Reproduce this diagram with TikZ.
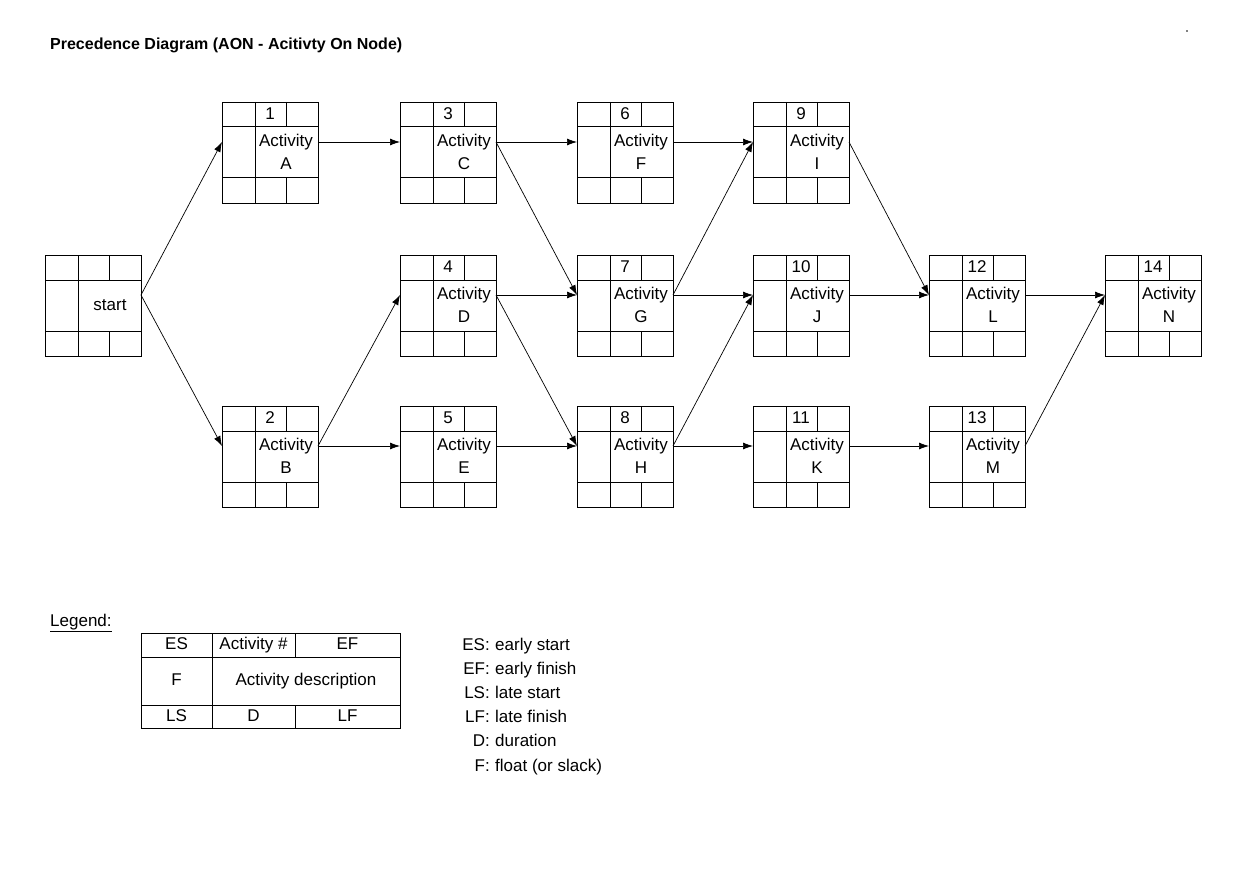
\documentclass[tikz,border=0pt]{standalone}
\usepackage{fontspec}
\setmainfont{Liberation Sans}
\usetikzlibrary{arrows.meta}
\tikzset{
  grid/.style={line width=1pt},
  conn/.style={line width=0.7pt,-{Latex[length=10pt,width=7pt]}},
  txt/.style={font=\fontsize{17}{19}\selectfont,inner sep=0pt,text height=12pt,text depth=3.5pt},
}
% #1 name, #2 x, #3 y, #4 number, #5 letter
\newcommand\actbox[5]{%
  \node[draw,grid,minimum width=96pt,minimum height=101pt,anchor=north west,inner sep=0pt] (#1) at (#2,#3) {};
  \draw[grid] (#2,#3+25) -- ++(96,0) (#2,#3+76) -- ++(96,0)
    (#2+33,#3) -- ++(0,101) (#2+64,#3) -- ++(0,25) (#2+64,#3+76) -- ++(0,25);
  \node[txt] (#1-num) at (#2+48,#3+13) {#4};
  \node[txt] (#1-act) at (#2+64,#3+40) {Activity};
  \node[txt] (#1-let) at (#2+64,#3+63) {#5};
  \coordinate (#1-in) at (#2,#3+40);
  \coordinate (#1-out) at (#2+96,#3+40);
}
\begin{document}
\begin{tikzpicture}[x=1pt,y=-1pt]
\useasboundingbox (0,0) rectangle (1260,896);
\node[anchor=west,font=\bfseries\fontsize{16}{18}\selectfont,inner sep=0pt] (title) at (50,45) {Precedence Diagram (AON - Acitivty On Node)};
\fill (1187,31) circle (0.8);
% start box
\node[draw,grid,minimum width=96pt,minimum height=101pt,anchor=north west,inner sep=0pt] (S) at (45,255) {};
\draw[grid] (45,280) -- ++(96,0) (45,331) -- ++(96,0)
  (78,255) -- ++(0,101) (109,255) -- ++(0,25) (109,331) -- ++(0,25);
\node[txt] (S-txt) at (110,306) {start};
\coordinate (S-out) at (141,295);
\actbox{A}{222}{102}{1}{A}
\actbox{B}{222}{406}{2}{B}
\actbox{C}{400}{102}{3}{C}
\actbox{D}{400}{255}{4}{D}
\actbox{E}{400}{406}{5}{E}
\actbox{F}{577}{102}{6}{F}
\actbox{G}{577}{255}{7}{G}
\actbox{H}{577}{406}{8}{H}
\actbox{I}{753}{102}{9}{I}
\actbox{J}{753}{255}{10}{J}
\actbox{K}{753}{406}{11}{K}
\actbox{L}{929}{255}{12}{L}
\actbox{M}{929}{406}{13}{M}
\actbox{N}{1105}{255}{14}{N}
\foreach \a/\b in {S/A,S/B,A/C,B/D,B/E,C/F,C/G,D/G,D/H,E/H,F/I,G/I,G/J,H/J,H/K,I/L,J/L,K/M,L/N,M/N}
  \draw[conn] (\a-out) -- (\b-in);
% legend
\node[anchor=west,txt] (leg) at (50,622) {\underline{Legend:}};
\node[draw,grid,minimum width=259pt,minimum height=95pt,anchor=north west,inner sep=0pt] (T) at (141,633) {};
\draw[grid] (141,657) -- ++(259,0) (141,705) -- ++(259,0)
  (212,633) -- ++(0,95) (295,633) -- ++(0,24) (295,705) -- ++(0,23);
\node[txt] (t1) at (176.5,645) {ES};
\node[txt] (t2) at (253.5,645) {Activity \#};
\node[txt] (t3) at (347.5,645) {EF};
\node[txt] (t4) at (176.5,681) {F};
\node[txt] (t5) at (306,681) {Activity description};
\node[txt] (t6) at (176.5,717) {LS};
\node[txt] (t7) at (253.5,717) {D};
\node[txt] (t8) at (347.5,717) {LF};
\foreach \k/\d/\y in {ES/early start/646,EF/early finish/670,LS/late start/694,LF/late finish/718,D/duration/742,F/float (or slack)/767}{
  \node[txt,anchor=east] (k\k) at (490,\y) {\k:};
  \node[txt,anchor=west] (d\k) at (495,\y) {\d};
}
\end{tikzpicture}
\end{document}
